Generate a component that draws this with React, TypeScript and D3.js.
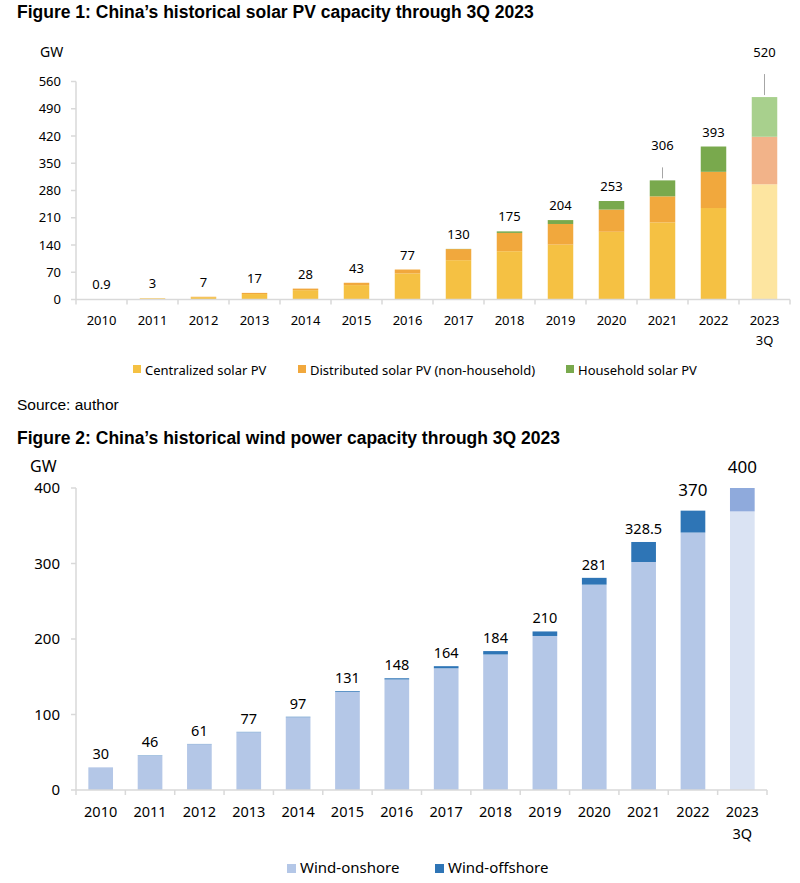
import React from 'react';
import * as d3 from 'd3';

const years = ['2010', '2011', '2012', '2013', '2014', '2015', '2016', '2017', '2018', '2019', '2020', '2021', '2022', '2023'];

// Solar PV, GW
const solarCentralized = [0.9, 3, 6, 14, 24, 37, 67, 101, 124, 141, 174, 198, 235, 296];
const solarDistributed = [0, 0, 1, 3, 4, 6, 10, 28.5, 47, 53, 57, 67, 93, 122];
const solarHousehold = [0, 0, 0, 0, 0, 0, 0, 0.5, 4, 10, 22, 41, 65, 102];
const solarTotals = ['0.9', '3', '7', '17', '28', '43', '77', '130', '175', '204', '253', '306', '393', '520'];
const solarTicks = [0, 70, 140, 210, 280, 350, 420, 490, 560];

// Wind, GW
const windOnshore = [30, 45.6, 60.7, 76.6, 96.4, 130, 146.4, 161.2, 179.5, 204, 272, 302, 341, 369];
const windOffshore = [0, 0.4, 0.3, 0.4, 0.6, 1, 1.6, 2.8, 4.5, 6, 9, 26.5, 29, 31];
const windTotals = ['30', '46', '61', '77', '97', '131', '148', '164', '184', '210', '281', '328.5', '370', '400'];
const windTicks = [0, 100, 200, 300, 400];

const solarColors = ['#f5c143', '#f1a83d', '#79a94d'];
const solarColorsLight = ['#fde5a0', '#f2b389', '#a8d08d'];
const windColors = ['#b4c7e7', '#2e75b6'];
const windColorsLight = ['#dae3f3', '#8faadc'];

const FONT = '"Noto Sans", "Open Sans", sans-serif';
const ARIAL = "Arial, 'Liberation Sans', sans-serif";
const AXIS = '#d9d9d9';

const Solar: React.FC = () => {
  const x = d3.scaleBand<string>().domain(years).range([76, 790]).paddingInner(0.5).paddingOuter(0.25);
  const y = d3.scaleLinear().domain([0, 560]).range([299.5, 81.5]);
  const rows = years.map((yr, i) => ({
    yr, centralized: solarCentralized[i], distributed: solarDistributed[i], household: solarHousehold[i],
  }));
  const stack = d3.stack<any>().keys(['centralized', 'distributed', 'household'])(rows);
  const last = years.length - 1;
  const total = (i: number) => solarCentralized[i] + solarDistributed[i] + solarHousehold[i];
  // labels that sit higher, with a leader line
  const lift: Record<number, number> = { 11: 20, 13: 30 };

  return (
    <g>
      <text x={17} y={18} fontFamily={ARIAL} fontWeight="bold" fontSize={17.5}>
        Figure 1: China’s historical solar PV capacity through 3Q 2023
      </text>
      <text x={40} y={57} fontFamily={FONT} fontSize={14}>GW</text>
      {stack.map((layer, k) => (
        <g key={k}>
          {layer.map((d, i) => (
            <rect key={i} x={x(years[i])} width={x.bandwidth()} y={y(d[1])} height={Math.max(0, y(d[0]) - y(d[1]))}
              fill={i === last ? solarColorsLight[k] : solarColors[k]} />
          ))}
        </g>
      ))}
      <line x1={76} x2={76} y1={y(560)} y2={y(0)} stroke={AXIS} strokeWidth={1.5} />
      {solarTicks.map(t => (
        <g key={t}>
          <line x1={71} x2={76} y1={y(t)} y2={y(t)} stroke={AXIS} strokeWidth={1.5} />
          <text x={61} y={y(t)} dy="0.35em" textAnchor="end" fontFamily={FONT} fontSize={13}>{t}</text>
        </g>
      ))}
      <line x1={76} x2={790} y1={y(0)} y2={y(0)} stroke={AXIS} strokeWidth={1.5} />
      {years.map(yr => (
        <line key={yr} x1={x(yr)! - x.step() * 0.25} x2={x(yr)! - x.step() * 0.25} y1={y(0)} y2={y(0) + 5} stroke={AXIS} strokeWidth={1.5} />
      ))}
      <line x1={790} x2={790} y1={y(0)} y2={y(0) + 5} stroke={AXIS} strokeWidth={1.5} />
      {years.map(yr => (
        <text key={yr} x={x(yr)! + x.bandwidth() / 2} y={325} textAnchor="middle" fontFamily={FONT} fontSize={13}>{yr}</text>
      ))}
      <text x={x('2023')! + x.bandwidth() / 2} y={345} textAnchor="middle" fontFamily={FONT} fontSize={13}>3Q</text>
      {years.map((yr, i) => {
        const top = y(total(i));
        const l = lift[i] ?? 0;
        const cx = x(yr)! + x.bandwidth() / 2;
        return (
          <g key={yr}>
            {l > 0 && <line x1={cx} x2={cx} y1={top - 2} y2={top - l + 7} stroke="#a6a6a6" strokeWidth={1} />}
            <text x={cx} y={top - 10 - l} textAnchor="middle" fontFamily={FONT} fontSize={13}>{solarTotals[i]}</text>
          </g>
        );
      })}
      {[
        { label: 'Centralized solar PV', x: 133 },
        { label: 'Distributed solar PV (non-household)', x: 298 },
        { label: 'Household solar PV', x: 566 },
      ].map((item, k) => (
        <g key={k}>
          <rect x={item.x} y={365} width={8} height={8} fill={solarColors[k]} />
          <text x={item.x + 12} y={370} dy="0.35em" fontFamily={FONT} fontSize={13}>{item.label}</text>
        </g>
      ))}
      <text x={17} y={410} fontFamily={ARIAL} fontSize={15.5}>Source: author</text>
    </g>
  );
};

const Wind: React.FC = () => {
  const x = d3.scaleBand<string>().domain(years).range([76, 767]).paddingInner(0.5).paddingOuter(0.25);
  const y = d3.scaleLinear().domain([0, 400]).range([790, 488]);
  const rows = years.map((yr, i) => ({ yr, onshore: windOnshore[i], offshore: windOffshore[i] }));
  const stack = d3.stack<any>().keys(['onshore', 'offshore'])(rows);
  const last = years.length - 1;
  const big = (i: number) => i >= 12;

  return (
    <g>
      <text x={17} y={444} fontFamily={ARIAL} fontWeight="bold" fontSize={17.5}>
        Figure 2: China’s historical wind power capacity through 3Q 2023
      </text>
      <text x={30} y={472} fontFamily={FONT} fontSize={16}>GW</text>
      {stack.map((layer, k) => (
        <g key={k}>
          {layer.map((d, i) => (
            <rect key={i} x={x(years[i])} width={x.bandwidth()} y={y(d[1])} height={Math.max(0, y(d[0]) - y(d[1]))}
              fill={i === last ? windColorsLight[k] : windColors[k]} />
          ))}
        </g>
      ))}
      <line x1={76} x2={76} y1={y(400)} y2={y(0)} stroke={AXIS} strokeWidth={1.5} />
      {windTicks.map(t => (
        <g key={t}>
          <line x1={71} x2={76} y1={y(t)} y2={y(t)} stroke={AXIS} strokeWidth={1.5} />
          <text x={60} y={y(t)} dy="0.35em" textAnchor="end" fontFamily={FONT} fontSize={15}>{t}</text>
        </g>
      ))}
      <line x1={76} x2={767} y1={y(0)} y2={y(0)} stroke={AXIS} strokeWidth={1.5} />
      {years.map(yr => (
        <line key={yr} x1={x(yr)! - x.step() * 0.25} x2={x(yr)! - x.step() * 0.25} y1={y(0)} y2={y(0) + 5} stroke={AXIS} strokeWidth={1.5} />
      ))}
      <line x1={767} x2={767} y1={y(0)} y2={y(0) + 5} stroke={AXIS} strokeWidth={1.5} />
      {years.map(yr => (
        <text key={yr} x={x(yr)! + x.bandwidth() / 2} y={817} textAnchor="middle" fontFamily={FONT} fontSize={14.5}>{yr}</text>
      ))}
      <text x={x('2023')! + x.bandwidth() / 2} y={839} textAnchor="middle" fontFamily={FONT} fontSize={14.5}>3Q</text>
      {years.map((yr, i) => {
        const top = y(windOnshore[i] + windOffshore[i]);
        return (
          <text key={yr} x={x(yr)! + x.bandwidth() / 2} y={top - (big(i) ? 15 : 8)} textAnchor="middle"
            fontFamily={FONT} fontSize={big(i) ? 17 : 14.5}>{windTotals[i]}</text>
        );
      })}
      {[
        { label: 'Wind-onshore', x: 287 },
        { label: 'Wind-offshore', x: 435 },
      ].map((item, k) => (
        <g key={k}>
          <rect x={item.x} y={864} width={9} height={9} fill={windColors[k]} />
          <text x={item.x + 13} y={868} dy="0.35em" fontFamily={FONT} fontSize={15}>{item.label}</text>
        </g>
      ))}
    </g>
  );
};

const App: React.FC = () => (
  <div style={{ position: 'absolute', left: 0, top: 0 }}>
    <svg width={800} height={883} style={{ display: 'block', background: '#fff' }}>
      <Solar />
      <Wind />
    </svg>
  </div>
);

export default App;
